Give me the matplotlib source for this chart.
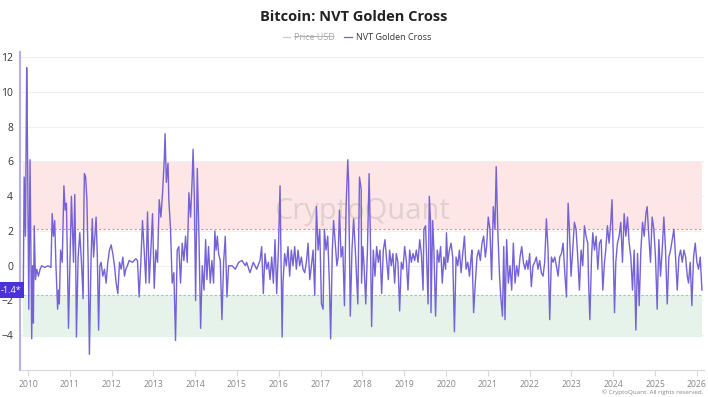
import numpy as np
import matplotlib.pyplot as plt

# NVT Golden Cross (decimal years, value)
years_2010 = [2009.89, 2009.91, 2009.94, 2009.97, 2009.98, 2010.01, 2010.02, 2010.05, 2010.07, 2010.09,
              2010.11, 2010.13, 2010.15, 2010.18, 2010.21, 2010.25, 2010.29, 2010.33, 2010.40, 2010.48,
              2010.55, 2010.58, 2010.61, 2010.64, 2010.67, 2010.71, 2010.73, 2010.75, 2010.78, 2010.82,
              2010.86, 2010.89, 2010.92, 2010.94, 2010.97]
nvt_2010 = [-1.0, 5.1, 1.7, 11.4, 9.5, 0.9, -2.5, 6.1, 0.9, -4.2,
            0.0, -3.3, 2.3, -0.8, -0.2, -0.6, -0.2, 0.0, -0.1, 0.0,
            -0.1, 3.0, 1.7, 2.6, 0.0, -2.5, -1.4, -2.2, 0.9, 0.2,
            4.6, 3.2, 3.6, 0.9, -3.6]

years_2011 = [2011.01, 2011.04, 2011.07, 2011.09, 2011.12, 2011.14, 2011.16, 2011.20, 2011.24, 2011.28,
              2011.32, 2011.34, 2011.35, 2011.38, 2011.41, 2011.44, 2011.47, 2011.51, 2011.54, 2011.57,
              2011.60, 2011.63, 2011.66, 2011.69, 2011.72, 2011.75, 2011.79, 2011.83, 2011.87, 2011.91,
              2011.95, 2011.99]
nvt_2011 = [0.9, 4.0, 1.7, 0.2, 4.1, 0.9, -4.1, 0.5, 1.9, 0.2,
            -1.9, 3.8, 5.3, 5.1, 3.8, 0.2, -5.1, 0.5, 2.7, 0.5,
            1.7, 2.8, 0.5, -3.7, 0.0, 0.2, -0.6, -0.2, -1.0, 0.2,
            0.9, 1.2]

years_2012 = [2012.03, 2012.07, 2012.11, 2012.15, 2012.19, 2012.23, 2012.27, 2012.31, 2012.34, 2012.38,
              2012.42, 2012.50, 2012.58, 2012.62, 2012.66, 2012.70, 2012.74, 2012.78, 2012.82, 2012.86,
              2012.90, 2012.94, 2012.98]
nvt_2012 = [0.7, 0.0, -1.0, -1.6, 0.2, -0.2, 0.5, -0.6, -0.2, 0.0,
            0.3, 0.2, 0.4, 0.3, -1.8, 0.2, 2.6, 0.9, -1.0, 3.1,
            -1.0, 0.9, 3.0]

years_2013 = [2013.02, 2013.06, 2013.10, 2013.14, 2013.18, 2013.22, 2013.26, 2013.28, 2013.31, 2013.35,
              2013.37, 2013.41, 2013.45, 2013.49, 2013.53, 2013.57, 2013.61, 2013.65, 2013.69, 2013.73,
              2013.77, 2013.81, 2013.85, 2013.89, 2013.93, 2013.95, 2013.98]
nvt_2013 = [-1.3, 0.9, 0.2, 3.8, 2.8, 4.2, 6.1, 7.6, 4.8, 5.9,
            3.8, 2.1, -1.0, -0.4, -4.3, 0.9, 1.1, -1.0, 1.3, 0.3,
            1.7, 0.2, 4.2, 2.8, 5.1, 6.7, 4.0]

years_2014 = [2014.01, 2014.05, 2014.09, 2014.13, 2014.17, 2014.21, 2014.25, 2014.28, 2014.32, 2014.36,
              2014.40, 2014.44, 2014.47, 2014.50, 2014.53, 2014.56, 2014.60, 2014.64, 2014.68, 2014.72,
              2014.76, 2014.80, 2014.88, 2014.96]
nvt_2014 = [-2.0, 5.6, 1.7, -3.6, 0.0, -1.4, 1.5, -0.8, 1.1, -1.0,
            0.3, -1.0, 2.0, 0.9, 1.7, 0.7, 0.3, -3.1, 0.2, 1.7,
            -1.8, 0.0, 0.0, -0.2]

years_2015 = [2015.04, 2015.12, 2015.20, 2015.23, 2015.31, 2015.39, 2015.47, 2015.55, 2015.59, 2015.63,
              2015.67, 2015.71, 2015.75, 2015.79, 2015.83, 2015.87, 2015.91, 2015.95, 2015.99]
nvt_2015 = [0.2, 0.3, 0.0, 0.2, -0.4, 0.2, -0.2, 0.3, 1.1, -1.6,
            0.7, -0.2, 0.2, -0.8, 0.5, -1.0, 1.5, -1.6, 0.9]

years_2016 = [2016.03, 2016.05, 2016.08, 2016.10, 2016.14, 2016.18, 2016.22, 2016.26, 2016.30, 2016.34,
              2016.38, 2016.42, 2016.46, 2016.50, 2016.54, 2016.58, 2016.62, 2016.66, 2016.70, 2016.74,
              2016.78, 2016.82, 2016.86, 2016.90, 2016.94, 2016.98]
nvt_2016 = [4.6, 0.9, -4.1, -1.0, 0.7, 0.0, 1.1, -0.6, 0.9, 0.0,
            1.1, -0.2, 0.9, 0.0, 0.5, -0.2, -0.4, 0.2, 1.3, -0.8,
            0.0, 0.9, -1.7, 3.4, 0.9, 2.1]

years_2017 = [2017.02, 2017.06, 2017.09, 2017.13, 2017.17, 2017.21, 2017.24, 2017.28, 2017.31, 2017.35,
              2017.39, 2017.42, 2017.45, 2017.49, 2017.53, 2017.57, 2017.61, 2017.65, 2017.67, 2017.71,
              2017.75, 2017.79, 2017.83, 2017.89, 2017.93, 2017.97, 2017.98]
nvt_2017 = [-2.2, -2.5, 2.1, 0.9, 1.7, -1.0, -4.2, 0.9, 2.6, 1.3,
            0.0, 0.5, 3.2, 0.5, 1.1, -2.3, 3.4, 6.1, 4.8, -2.9,
            0.9, 2.7, 0.9, -2.2, 5.1, 4.4, -1.0]

years_2018 = [2018.01, 2018.04, 2018.08, 2018.12, 2018.16, 2018.19, 2018.22, 2018.26, 2018.30, 2018.34,
              2018.38, 2018.42, 2018.46, 2018.50, 2018.54, 2018.58, 2018.62, 2018.65, 2018.69, 2018.73,
              2018.77, 2018.81, 2018.85, 2018.89, 2018.93, 2018.97]
nvt_2018 = [1.1, 0.0, -2.2, 0.9, 5.3, 1.7, -3.5, 0.9, -0.6, 1.1,
            0.2, 0.9, -1.6, 0.9, 1.5, 0.3, -0.8, 0.9, 0.0, 0.7,
            -1.0, 0.7, 0.2, -2.6, 0.2, -0.2]

years_2019 = [2019.01, 2019.05, 2019.09, 2019.13, 2019.17, 2019.21, 2019.25, 2019.29, 2019.33, 2019.37,
              2019.41, 2019.45, 2019.47, 2019.51, 2019.53, 2019.57, 2019.60, 2019.63, 2019.64, 2019.68,
              2019.71, 2019.75, 2019.79, 2019.83, 2019.87, 2019.91, 2019.95, 2019.99]
nvt_2019 = [1.1, 0.3, -1.4, 0.9, 0.2, 0.7, 0.3, 0.9, 0.2, 1.5,
            0.7, -1.4, 2.1, 2.3, 0.9, -2.2, 4.0, 2.5, -2.7, 2.6,
            0.9, -2.9, 0.9, 0.2, 1.1, -1.0, 0.5, -0.2]

years_2020 = [2020.01, 2020.04, 2020.08, 2020.12, 2020.16, 2020.20, 2020.24, 2020.28, 2020.32, 2020.36,
              2020.40, 2020.44, 2020.48, 2020.52, 2020.56, 2020.60, 2020.62, 2020.66, 2020.70, 2020.74,
              2020.78, 2020.82, 2020.86, 2020.90, 2020.94, 2020.97]
nvt_2020 = [1.9, 0.2, 0.9, 1.3, 0.5, -3.8, 0.5, 0.0, 0.9, -0.4,
            0.7, 1.7, -0.2, 0.2, -0.6, 0.5, 0.9, -2.7, -1.0, 0.5,
            0.9, 0.3, 1.3, 1.7, 0.5, 1.1]

years_2021 = [2021.01, 2021.05, 2021.09, 2021.13, 2021.17, 2021.20, 2021.24, 2021.28, 2021.31, 2021.35,
              2021.38, 2021.41, 2021.45, 2021.49, 2021.53, 2021.57, 2021.61, 2021.65, 2021.69, 2021.73,
              2021.77, 2021.81, 2021.85, 2021.89, 2021.93, 2021.96]
nvt_2021 = [2.8, 2.1, -0.8, 3.4, 2.1, 5.7, 1.9, -0.6, -1.8, -2.9,
            1.1, -3.1, 1.5, -1.0, 0.0, -1.4, 1.3, -1.0, 0.0, -0.6,
            0.5, 1.1, 0.2, -0.2, 0.3, -0.2]

years_2022 = [2022.00, 2022.04, 2022.08, 2022.12, 2022.16, 2022.20, 2022.24, 2022.28, 2022.32, 2022.36,
              2022.40, 2022.44, 2022.48, 2022.52, 2022.56, 2022.60, 2022.64, 2022.68, 2022.72, 2022.76,
              2022.80, 2022.84, 2022.88, 2022.92, 2022.95, 2022.99]
nvt_2022 = [0.7, -1.2, 0.0, 0.2, 0.5, -0.2, 0.3, -0.4, -0.6, 0.2,
            2.7, 0.9, -3.1, 0.5, 0.2, 0.5, 0.0, -0.6, 0.5, 0.7,
            1.3, -0.4, -1.8, 3.6, 2.1, -0.6]

years_2023 = [2023.03, 2023.07, 2023.11, 2023.15, 2023.19, 2023.23, 2023.27, 2023.31, 2023.35, 2023.39,
              2023.41, 2023.44, 2023.48, 2023.51, 2023.55, 2023.59, 2023.63, 2023.67, 2023.71, 2023.75,
              2023.79, 2023.82, 2023.86, 2023.90, 2023.94, 2023.97, 2024.00]
nvt_2023 = [0.9, 2.5, 2.1, 0.5, -1.4, 0.9, 0.0, 2.3, 1.7, 1.3,
            -1.0, -3.1, 0.5, 1.9, 0.9, 1.7, -0.2, 1.3, 1.5, -1.4,
            0.2, 0.9, 2.3, 1.3, 2.5, 3.8, 0.5]

years_2024 = [2024.03, 2024.06, 2024.10, 2024.14, 2024.18, 2024.22, 2024.26, 2024.30, 2024.34, 2024.38,
              2024.42, 2024.46, 2024.50, 2024.54, 2024.58, 2024.62, 2024.66, 2024.70, 2024.74, 2024.78,
              2024.81, 2024.85, 2024.89, 2024.93, 2024.97]
nvt_2024 = [-2.7, 0.2, 1.3, 1.7, 2.5, 0.2, 3.0, 1.7, 2.8, 1.3,
            0.5, -1.4, 0.9, -3.7, 0.7, -2.3, 0.9, 2.5, 1.7, 3.0,
            3.4, 1.7, 0.2, 2.8, 2.1]

years_2025 = [2025.01, 2025.05, 2025.09, 2025.13, 2025.17, 2025.21, 2025.25, 2025.29, 2025.33, 2025.37,
              2025.41, 2025.45, 2025.49, 2025.53, 2025.57, 2025.61, 2025.65, 2025.69, 2025.73, 2025.77,
              2025.80, 2025.84, 2025.88, 2025.92, 2025.96]
nvt_2025 = [0.5, -2.5, 1.5, -0.6, 0.9, 2.8, 0.9, -2.2, 0.5, 0.9,
            1.5, 2.1, 0.5, -1.4, 0.5, 0.9, 0.2, 0.9, 0.5, -0.6,
            -1.0, 0.2, -2.3, 0.5, 1.3]

years_2026 = [2026.00, 2026.04, 2026.08, 2026.12]
nvt_2026 = [0.2, -0.2, 0.5, -1.4]

# zones drawn by CryptoQuant
overheat_lo, overheat_hi = 2.1, 6.0
cold_lo, cold_hi = -4.1, -1.7
year_ticks = list(range(2010, 2027))
y_ticks = [-4, -2, 0, 2, 4, 6, 8, 10, 12]

years = np.array(years_2010 + years_2011 + years_2012 + years_2013 + years_2014 + years_2015
                 + years_2016 + years_2017 + years_2018 + years_2019 + years_2020 + years_2021
                 + years_2022 + years_2023 + years_2024 + years_2025 + years_2026)
nvt = np.array(nvt_2010 + nvt_2011 + nvt_2012 + nvt_2013 + nvt_2014 + nvt_2015
               + nvt_2016 + nvt_2017 + nvt_2018 + nvt_2019 + nvt_2020 + nvt_2021
               + nvt_2022 + nvt_2023 + nvt_2024 + nvt_2025 + nvt_2026)

plt.rcParams['font.family'] = ['Open Sans', 'DejaVu Sans']

fig = plt.figure(figsize=(7.08, 3.97), dpi=100)
ax = fig.add_axes([20 / 708, 27 / 397, 684 / 708, 318 / 397])

x0, x1 = years[0], years[-1]
ax.fill_between([x0, x1], overheat_lo, overheat_hi, color='#fde6e5', lw=0, zorder=0)
ax.fill_between([x0, x1], cold_lo, cold_hi, color='#e5f3ea', lw=0, zorder=0)
ax.plot([x0, x1], [overheat_lo, overheat_lo], ls=(0, (2, 2)), color='#e98c8c', lw=0.8, zorder=1)
ax.plot([x0, x1], [cold_hi, cold_hi], ls=(0, (2, 2)), color='#9cc8a8', lw=0.8, zorder=1)

ax.plot(years, nvt, color='#7462d6', lw=1.0, zorder=3)

ax.set_xlim(2009.81, 2026.17)
ax.set_ylim(-6.0, 12.3)
ax.set_yticks(y_ticks)
ax.set_xticks(year_ticks)
ax.set_xticklabels([str(y) for y in year_ticks])
ax.grid(axis='y', color='#f0f0f0', lw=0.8, zorder=0)
ax.tick_params(axis='y', length=0, pad=5, labelsize=7.5, labelcolor='#333333')
ax.tick_params(axis='x', length=4, color='#d8d8d8', pad=3, labelsize=6.2, labelcolor='#888888')
for side in ['top', 'right']:
    ax.spines[side].set_visible(False)
ax.spines['bottom'].set_color('#d8d8d8')
ax.spines['left'].set_color('#b9aeea')
ax.spines['left'].set_linewidth(1.5)

# watermark
ax.text(0.5, 0.5, 'CryptoQuant', transform=ax.transAxes, fontsize=21, color='#d4caca',
        alpha=0.75, ha='center', va='center', zorder=2)

# current value tag
ax.text(-0.0285, -1.4, '-1.4*', transform=ax.get_yaxis_transform(), fontsize=6.5, color='white',
        ha='left', va='center', zorder=5, clip_on=False,
        bbox=dict(boxstyle='square,pad=0.35', fc='#4b32d8', ec='none'))

fig.text(0.5, 1 - 17 / 397, 'Bitcoin: NVT Golden Cross', ha='center', va='center',
         fontsize=10.5, fontweight='bold', color='#222222')

# legend (Price USD series is switched off)
ly = 1 - 37 / 397
fig.lines.append(plt.Line2D([283 / 708, 290 / 708], [ly, ly], color='#cccccc', lw=0.9,
                            transform=fig.transFigure))
fig.text(294 / 708, ly, 'Price USD', ha='left', va='center', fontsize=6.5, color='#aaaaaa')
fig.lines.append(plt.Line2D([294 / 708, 333 / 708], [ly + 0.002, ly + 0.002], color='#aaaaaa', lw=0.6,
                            transform=fig.transFigure))
fig.lines.append(plt.Line2D([344 / 708, 352 / 708], [ly, ly], color='#7462d6', lw=0.9,
                            transform=fig.transFigure))
fig.text(356 / 708, ly, 'NVT Golden Cross', ha='left', va='center', fontsize=6.5, color='#333333')

fig.text(703 / 708, 1 - 395 / 397, '© CryptoQuant. All rights reserved.', ha='right', va='bottom',
         fontsize=4.5, color='#888888')

fig.savefig('out.png', dpi=100)
